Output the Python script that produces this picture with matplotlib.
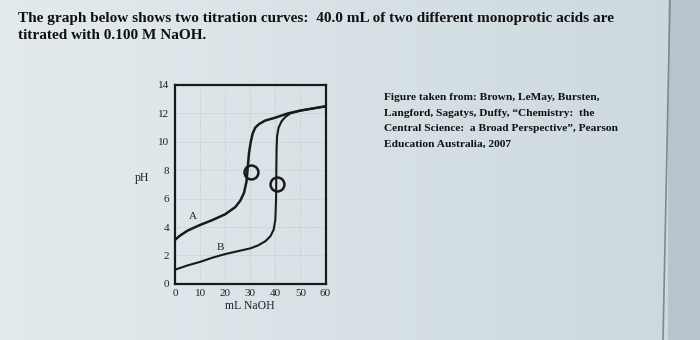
import matplotlib.pyplot as plt
import numpy as np

# --- data ---
acid_a_ml = [0, 2, 5, 10, 15, 20, 24, 26, 27.5, 28.5, 29.0, 29.5, 30.2, 31, 32, 33.5, 36, 40, 45, 50, 55, 60]
acid_a_ph = [3.1, 3.4, 3.75, 4.15, 4.5, 4.9, 5.4, 5.85, 6.4, 7.2, 8.2, 9.2, 10.0, 10.6, 11.0, 11.25, 11.5, 11.7, 12.0, 12.2, 12.35, 12.5]

acid_b_ml = [0, 5, 10, 15, 20, 25, 30, 33, 36, 38, 39.3, 40.0, 40.3, 40.4, 40.5, 40.7, 41.3, 42.5, 44, 46, 50, 55, 60]
acid_b_ph = [1.0, 1.3, 1.55, 1.85, 2.1, 2.3, 2.5, 2.7, 3.0, 3.35, 3.8, 4.5, 6.0, 8.0, 9.5, 10.4, 11.0, 11.45, 11.75, 12.0, 12.2, 12.35, 12.5]

equiv_ml = [30.3, 40.8]
equiv_ph = [7.9, 7.05]

x_ticks = [0, 10, 20, 30, 40, 50, 60]
y_ticks = [0, 2, 4, 6, 8, 10, 12, 14]

title = ("The graph below shows two titration curves:  40.0 mL of two different monoprotic acids are\n"
         "titrated with 0.100 M NaOH.")
credit_lines = ["Figure taken from: Brown, LeMay, Bursten,",
                "Langford, Sagatys, Duffy, \u201cChemistry:  the",
                "Central Science:  a Broad Perspective\u201d, Pearson",
                "Education Australia, 2007"]

plt.rcParams["font.family"] = ["Liberation Serif", "DejaVu Serif"]

fig = plt.figure(figsize=(7, 3.4), dpi=100)

# photographed-screen background
bg = fig.add_axes([0, 0, 1, 1])
grad = np.linspace(0, 1, 700)[None, :]
left = np.array([0.89, 0.92, 0.93])
right = np.array([0.80, 0.85, 0.87])
img = left[None, None, :] * (1 - grad[..., None]) + right[None, None, :] * grad[..., None]
img = np.repeat(img, 340, axis=0)
img[:, 668:, :] = np.array([0.72, 0.77, 0.80])
bg.imshow(img, aspect="auto", extent=[0, 700, 340, 0])
bg.plot([670, 663], [0, 340], color="#7d8a90", lw=1.2)
bg.set_xlim(0, 700)
bg.set_ylim(340, 0)
bg.axis("off")

fig.text(0.026, 0.965, title, ha="left", va="top", fontsize=11,
         fontweight="bold", color="#111111", linespacing=1.45)
for i, line in enumerate(credit_lines):
    y_px = 100 + i * 15.7
    fig.text(0.548, 1 - y_px / 340, line, ha="left", va="baseline", fontsize=8.2,
             fontweight="bold", color="#111111")

ax = fig.add_axes([0.25, 0.165, 0.215, 0.585])
ax.set_facecolor("none")
ax.plot(acid_a_ml, acid_a_ph, color="#1a1a1a", lw=1.8)
ax.plot(acid_b_ml, acid_b_ph, color="#1a1a1a", lw=1.5)
ax.plot(equiv_ml, equiv_ph, "o", ms=10, mfc="none", mec="#1a1a1a", mew=1.8)
ax.text(7, 4.4, "A", fontsize=8, color="#222222", ha="center", va="bottom")
ax.text(18, 2.25, "B", fontsize=8, color="#222222", ha="center", va="bottom")

ax.set_xlim(0, 60)
ax.set_ylim(0, 14)
ax.set_xticks(x_ticks)
ax.set_yticks(y_ticks)
ax.tick_params(length=0, labelsize=8, pad=4, colors="#222222")
ax.grid(True, color="#b8c0c4", lw=0.6, ls=":")
for s in ax.spines.values():
    s.set_linewidth(1.6)
    s.set_color("#1a1a1a")
ax.set_xlabel("mL NaOH", fontsize=8.5, labelpad=1, color="#222222")
ax.set_ylabel("pH", fontsize=8.5, rotation=0, labelpad=12, color="#222222")

fig.savefig("out.png", dpi=100)
